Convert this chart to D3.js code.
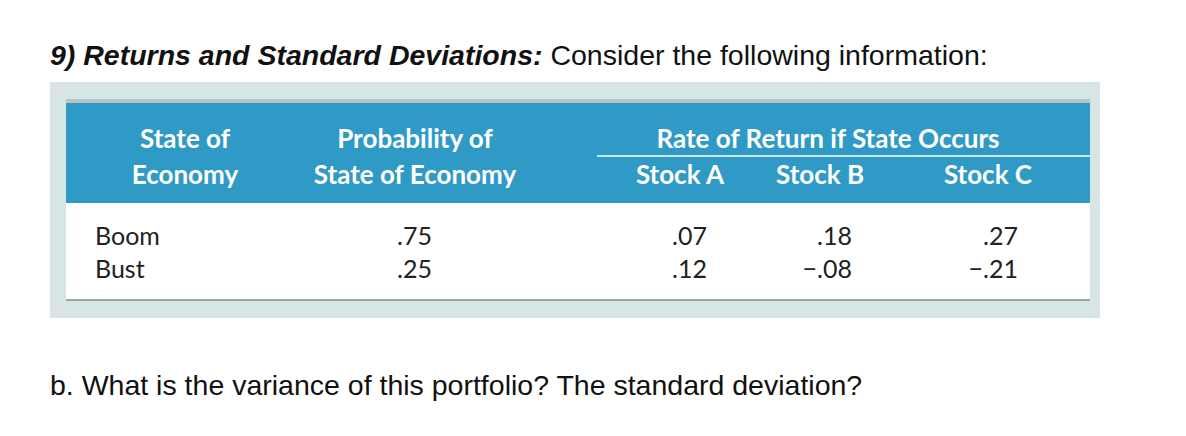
<!DOCTYPE html>
<html><head><meta charset="utf-8">
<script src="https://cdn.jsdelivr.net/npm/d3@7"></script>
<style>body{margin:0;background:#fff}</style>
</head><body>
<svg id="chart"></svg>
<script>
// table data
const states = ['Boom', 'Bust'];
const probs = ['.75', '.25'];
const stockA = ['.07', '.12'];
const stockB = ['.18', '\u2212.08'];
const stockC = ['.27', '\u2212.21'];
const stockNames = ['Stock A', 'Stock B', 'Stock C'];

const W = 1186, H = 436;
const svg = d3.select('#chart').attr('width', W).attr('height', H);
const font = 'Liberation Sans, Arial, sans-serif';
const tfont = 'Lato, Noto Sans, sans-serif';

// title
const title = svg.append('text').attr('x', 50).attr('y', 65)
  .style('font-family', font).style('font-size', '28.5px').attr('fill', '#111');
title.append('tspan').text('9) Returns and Standard Deviations:')
  .style('font-weight', 'bold').style('font-style', 'italic');
title.append('tspan').text(' Consider the following information:');

// panel
svg.append('rect').attr('x', 50).attr('y', 82).attr('width', 1050).attr('height', 236).attr('fill', '#d7e5e5');
svg.append('rect').attr('x', 66).attr('y', 99).attr('width', 1024).attr('height', 201).attr('fill', '#fff');
svg.append('rect').attr('x', 66).attr('y', 99).attr('width', 1024).attr('height', 4).attr('fill', '#b9c4c6');
svg.append('rect').attr('x', 66).attr('y', 103).attr('width', 1024).attr('height', 100).attr('fill', '#2f9ac6');
svg.append('line').attr('x1', 66).attr('x2', 1090).attr('y1', 300).attr('y2', 300)
  .attr('stroke', '#888').attr('stroke-width', 1.5);
svg.append('line').attr('x1', 597).attr('x2', 1090).attr('y1', 156).attr('y2', 156)
  .attr('stroke', '#fff').attr('stroke-width', 1.5);

// column positions
const col = d3.scaleOrdinal()
  .domain(['state', 'prob', 'Stock A', 'Stock B', 'Stock C'])
  .range([185, 415, 680, 820, 988]);
const valRight = d3.scaleOrdinal()
  .domain(['prob', 'Stock A', 'Stock B', 'Stock C'])
  .range([432, 707, 852, 1018]);
const rowY = d3.scalePoint().domain(states).range([245, 278]);

const hdr = (x, y, t) => svg.append('text').attr('x', x).attr('y', y).attr('text-anchor', 'middle')
  .style('font-family', tfont).style('font-size', '26px').style('font-weight', 'bold')
  .attr('fill', '#fff').text(t);
hdr(col('state'), 148, 'State of');
hdr(col('state'), 184, 'Economy');
hdr(col('prob'), 148, 'Probability of');
hdr(col('prob'), 184, 'State of Economy');
hdr(828, 148, 'Rate of Return if State Occurs');
stockNames.forEach(s => hdr(col(s), 184, s));

const body = svg.append('g').style('font-family', tfont).style('font-size', '25px').attr('fill', '#222');
body.selectAll('.st').data(states).join('text')
  .attr('x', 95).attr('y', d => rowY(d)).text(d => d);
[['prob', probs], ['Stock A', stockA], ['Stock B', stockB], ['Stock C', stockC]].forEach(([k, vals]) => {
  body.selectAll(null).data(vals).join('text')
    .attr('x', valRight(k)).attr('y', (d, i) => rowY(states[i]))
    .attr('text-anchor', 'end').text(d => d);
});

svg.append('text').attr('x', 50).attr('y', 395)
  .style('font-family', font).style('font-size', '28.5px').attr('fill', '#111')
  .text('b. What is the variance of this portfolio? The standard deviation?');
</script>
</body></html>
